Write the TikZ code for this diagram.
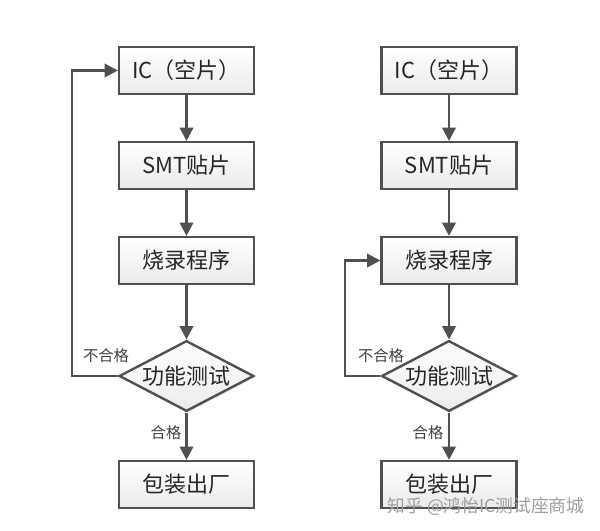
\documentclass[tikz,border=0pt]{standalone}
\usepackage{fontspec}
\setmainfont{Noto Sans CJK SC}
\usetikzlibrary{shapes.geometric,arrows.meta,shadows}
\definecolor{flowgray}{HTML}{505050}
\tikzset{
  flowbox/.style={draw=flowgray,line width=1.8pt,top color=white,bottom color=black!8,
    minimum width=101pt,minimum height=35pt,inner sep=0pt,text=black!85,font=\fontsize{16.5}{19}\selectfont,
    drop shadow={opacity=0.18,shadow xshift=1.2pt,shadow yshift=-1.2pt}},
  flowtest/.style={flowbox,diamond,minimum width=101pt,minimum height=53pt,aspect=1.9},
  flowline/.style={draw=flowgray,line width=1.8pt},
  flowarrow/.style={flowline,-{Triangle[length=10pt,width=10pt]}},
  flowlabel/.style={text=black!75,font=\fontsize{11.5}{14}\selectfont,inner sep=0pt},
  watermark/.style={text=black!38,font=\fontsize{13.3}{15}\selectfont,inner sep=0pt}
}
\begin{document}
\begin{tikzpicture}[x=0.75pt,y=-0.75pt]
\useasboundingbox (0,0) rectangle (600,531);
\node[flowbox] (icA) at (186.5,70.5) {IC（空片）};
\node[flowbox] (smtA) at (186.5,165.5) {SMT贴片};
\node[flowbox] (burnA) at (186.5,260.5) {烧录程序};
\node[flowtest] (testA) at (186.5,376) {功能测试};
\node[flowbox] (packA) at (186.5,484.5) {包装出厂};
\coordinate (turnA) at (72,376);
\draw[flowarrow] (icA) -- (smtA);
\draw[flowarrow] (smtA) -- (burnA);
\draw[flowarrow] (burnA) -- (testA);
\draw[flowarrow] (testA) -- (packA);
\draw[flowarrow] (testA.west) -- (turnA) |- (icA.west);
\node[flowlabel] (failA) at (106,356) {不合格};
\node[flowlabel] (passA) at (166,433) {合格};
\node[flowbox] (icB) at (449,70.5) {IC（空片）};
\node[flowbox] (smtB) at (449,165.5) {SMT贴片};
\node[flowbox] (burnB) at (449,260.5) {烧录程序};
\node[flowtest] (testB) at (449,376) {功能测试};
\node[flowbox] (packB) at (449,484.5) {包装出厂};
\coordinate (turnB) at (345,376);
\draw[flowarrow] (icB) -- (smtB);
\draw[flowarrow] (smtB) -- (burnB);
\draw[flowarrow] (burnB) -- (testB);
\draw[flowarrow] (testB) -- (packB);
\draw[flowarrow] (testB.west) -- (turnB) |- (burnB.west);
\node[flowlabel] (failB) at (381,356) {不合格};
\node[flowlabel] (passB) at (428,433) {合格};
\node[watermark] (mark) at (486,507) {知乎 @鸿怡IC测试座商城};
\end{tikzpicture}
\end{document}
